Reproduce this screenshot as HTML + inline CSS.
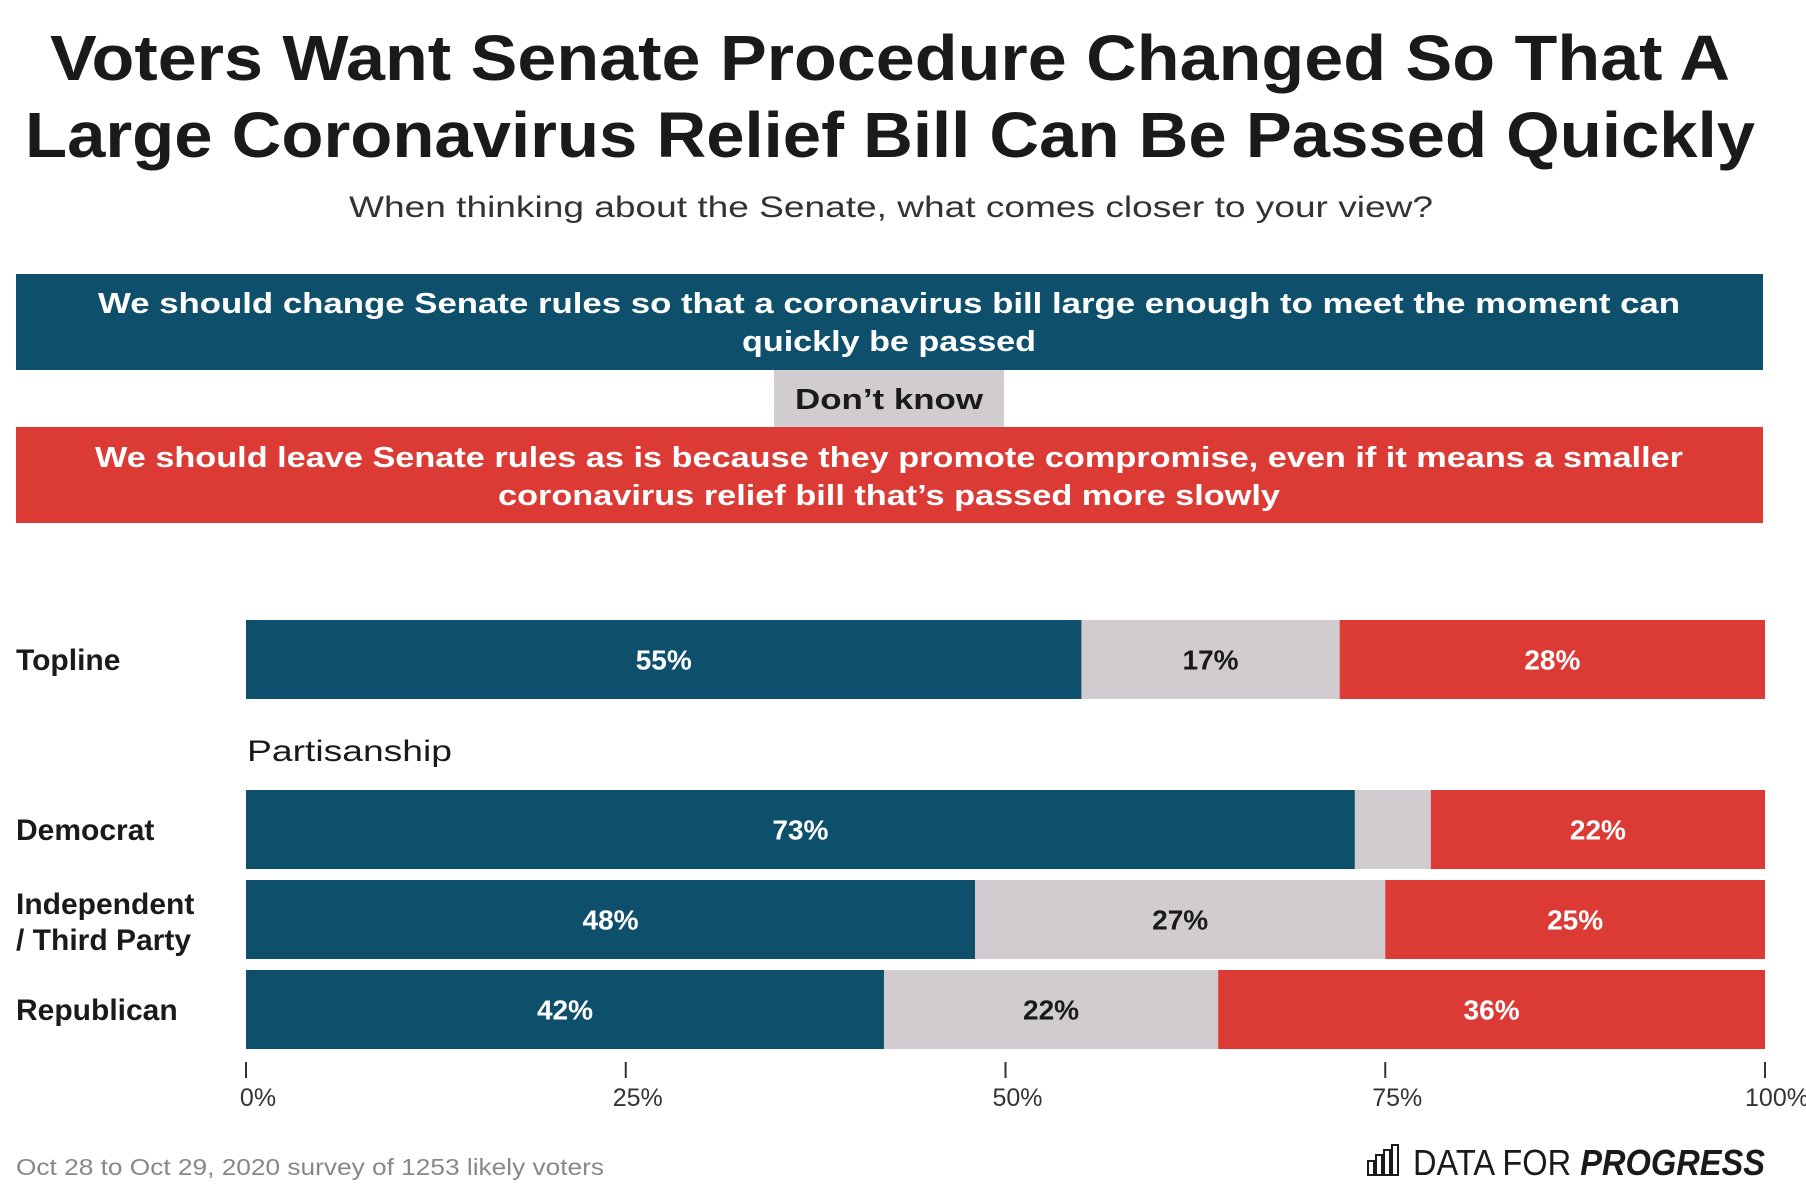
<!DOCTYPE html>
<html><head><meta charset="utf-8"><style>
html,body{margin:0;padding:0;background:#fff;}
svg{display:block;font-family:"Liberation Sans",sans-serif;}
</style></head><body>
<svg id="chart" width="1806" height="1196" viewBox="0 0 1806 1196" xmlns="http://www.w3.org/2000/svg">
<g font-weight="bold" font-size="64" fill="#1a1a1a" text-anchor="middle">
<text x="890" y="80" textLength="1680" lengthAdjust="spacingAndGlyphs">Voters Want Senate Procedure Changed So That A</text>
<text x="890" y="157" textLength="1730" lengthAdjust="spacingAndGlyphs">Large Coronavirus Relief Bill Can Be Passed Quickly</text>
</g>
<text x="891" y="217" font-size="30" fill="#333" text-anchor="middle" textLength="1084" lengthAdjust="spacingAndGlyphs">When thinking about the Senate, what comes closer to your view?</text>
<g font-weight="bold" font-size="29" text-anchor="middle">
<rect x="16" y="274" width="1747" height="96" fill="#0e4f6c"/>
<text x="889" y="313" fill="#fff" textLength="1582" lengthAdjust="spacingAndGlyphs">We should change Senate rules so that a coronavirus bill large enough to meet the moment can</text>
<text x="889" y="351" fill="#fff" textLength="294" lengthAdjust="spacingAndGlyphs">quickly be passed</text>
<rect x="774" y="370" width="230" height="57" fill="#d1ccd0"/>
<text x="889" y="409" fill="#1a1a1a" textLength="188" lengthAdjust="spacingAndGlyphs">Don’t know</text>
<rect x="16" y="427" width="1747" height="96" fill="#db3a35"/>
<text x="889" y="467" fill="#fff" textLength="1588" lengthAdjust="spacingAndGlyphs">We should leave Senate rules as is because they promote compromise, even if it means a smaller</text>
<text x="889" y="505" fill="#fff" textLength="782" lengthAdjust="spacingAndGlyphs">coronavirus relief bill that’s passed more slowly</text>
</g>
<text x="247" y="761" font-size="30" fill="#1a1a1a" textLength="205" lengthAdjust="spacingAndGlyphs">Partisanship</text>
<g id="bars"></g>
<g id="axis"></g>
<text x="16" y="1175" font-size="23" fill="#888" textLength="588" lengthAdjust="spacingAndGlyphs">Oct 28 to Oct 29, 2020 survey of 1253 likely voters</text>
<g>
<g fill="none" stroke="#1a1a1a" stroke-width="2">
<rect x="1368" y="1161" width="6" height="14"/><rect x="1376" y="1155" width="6" height="20"/><rect x="1384" y="1150" width="6" height="25"/><rect x="1392" y="1145" width="6" height="30"/>
</g>
<text x="1765" y="1175" font-size="36" fill="#1a1a1a" text-anchor="end" textLength="352" lengthAdjust="spacingAndGlyphs"><tspan>DATA FOR </tspan><tspan font-weight="bold" font-style="italic">PROGRESS</tspan></text>
</g>
</svg>
<script>
const categories = ["Topline","Democrat","Independent / Third Party","Republican"];
const changeVals = [55,73,48,42];
const dontKnowVals = [17,5,27,22];
const leaveVals = [28,22,25,36];
const tickVals = [0,25,50,75,100];
const tickLabels = ["0%","25%","50%","75%","100%"];

const NS="http://www.w3.org/2000/svg";
const x0=246, x1=1765;
const xs=v=>x0+(x1-x0)*v/100;
const rowTops=[620,790,880,970];
const barH=79;
const bars=document.getElementById('bars');
const axis=document.getElementById('axis');
function mk(tag,attrs,parent){const e=document.createElementNS(NS,tag);for(const k in attrs)e.setAttribute(k,attrs[k]);parent.appendChild(e);return e;}
const series=[{v:changeVals,c:"#0e4f6c",t:"#fff",n:"change"},{v:dontKnowVals,c:"#d1ccd0",t:"#1a1a1a",n:"dontknow"},{v:leaveVals,c:"#db3a35",t:"#fff",n:"leave"}];
categories.forEach((cat,i)=>{
  const y=rowTops[i];
  const lab=mk('text',{x:16,'font-size':30,'font-weight':'bold',fill:'#1a1a1a'},bars);
  
  
  if(cat.indexOf('/')>0){
    const t1=mk('tspan',{x:16,y:y+34},lab);t1.textContent='Independent';
    const t2=mk('tspan',{x:16,y:y+70},lab);t2.textContent='/ Third Party';
  } else {lab.setAttribute('y',y+50);lab.textContent=cat;}
  let cum=0;
  series.forEach(s=>{
    const v=s.v[i];
    const r=mk('rect',{x:xs(cum),y:y,width:xs(cum+v)-xs(cum),height:barH,fill:s.c},bars);
    
    
    if(v>=8){
      const t=mk('text',{x:(xs(cum)+xs(cum+v))/2,y:y+barH/2+10,'font-size':28,'font-weight':'bold',fill:s.t,'text-anchor':'middle'},bars);
      
      
      t.textContent=v+'%';
    }
    cum+=v;
  });
});
tickVals.forEach((v,i)=>{
  const tk=mk('line',{x1:xs(v),x2:xs(v),y1:1062,y2:1078,stroke:'#333','stroke-width':2},axis);
  
  
  const t=mk('text',{x:xs(v)+12,y:1106,'font-size':25,fill:'#333','text-anchor':'middle'},axis);
  
  
  t.textContent=tickLabels[i];
});
</script>
</body></html>
